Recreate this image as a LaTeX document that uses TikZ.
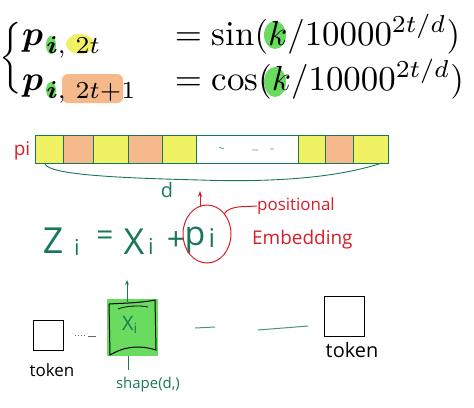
\documentclass[tikz,border=0pt]{standalone}
\usepackage{amsmath}
\usepackage{fontspec}
\newfontfamily\hand{Open Sans}
\usetikzlibrary{arrows.meta}
\definecolor{hgreen}{RGB}{25,120,90}
\definecolor{hred}{RGB}{215,30,40}
\definecolor{cyel}{RGB}{240,242,100}
\definecolor{corg}{RGB}{245,185,140}
\definecolor{cgrn}{RGB}{105,220,95}
\newcommand{\eqs}[1]{\scalebox{3.5}{#1}}
\begin{document}
\begin{tikzpicture}[x=1bp,y=-1bp,
  eq/.style={inner sep=0pt},
  hw/.style={inner sep=0pt, font=\hand},
  cell/.style={draw=hgreen, line width=0.9pt},
  tokbox/.style={draw=black, line width=1pt, minimum width=#1, minimum height=#1, inner sep=0pt},
]
\useasboundingbox (0,0) rectangle (474,407);
% highlights
\fill[cyel] (80,44) ellipse [x radius=14, y radius=10];
\fill[corg, rounded corners=6] (62,74) rectangle (123,103);
\fill[cgrn] (51,45) ellipse [x radius=5, y radius=9];
\fill[cgrn] (51,90) ellipse [x radius=5, y radius=8];
\fill[cgrn] (275,35) ellipse [x radius=11, y radius=14];
\fill[cgrn] (275,82) ellipse [x radius=11, y radius=15];
% equation
\node[eq] (brace) at (11,58) {\scalebox{3.0}{$\biggl\{$}};
\node[eq, anchor=base west] (l1) at (22,45) {\eqs{$\boldsymbol{p}_{\mkern2mu\boldsymbol{i},\mkern6mu 2t}$}};
\node[eq, anchor=base west] (l2) at (22,90) {\eqs{$\boldsymbol{p}_{\mkern2mu\boldsymbol{i},\mkern6mu 2t+1}$}};
\node[eq, anchor=base west] (r1) at (165,45) {\eqs{${}=\sin(k/10000^{2t/d})$}};
\node[eq, anchor=base west] (r2) at (165,90) {\eqs{${}=\cos(k/10000^{2t/d})$}};
% bar
\fill[cyel] (35,135) rectangle (63,163);
\fill[corg] (63,135) rectangle (93,163);
\fill[cyel] (93,135) rectangle (128,163);
\fill[corg] (128,135) rectangle (162,163);
\fill[cyel] (162,135) rectangle (196,163);
\fill[cyel] (298,135) rectangle (325,163);
\fill[corg] (325,135) rectangle (353,163);
\fill[cyel] (353,135) rectangle (388,163);
\node[cell, minimum width=353bp, minimum height=28bp, anchor=north west] (bar) at (35,135) {};
\foreach \xx in {63,93,128,162,196,298,325,353}
  \draw[cell] (\xx,135) -- (\xx,163);
\draw[hgreen!70, line width=0.8pt] (219,147) -- (224,149) (252,150) -- (258,150) (270,149) -- (274,149);
\node[hw, text=hred, font=\hand\fontsize{19}{19}\selectfont] (pil) at (22,151) {pi};
% brace under bar
\coordinate (bl) at (45,164);
\coordinate (br) at (382,163);
\draw[hgreen, line width=0.9pt] (bl) .. controls (50,175) and (120,178) .. (200,180)
  .. controls (260,182) and (330,180) .. (br);
\node[hw, text=hgreen, font=\hand\fontsize{20}{20}\selectfont] (d) at (167,190) {d};
% formula
\node[hw, text=hgreen, font=\hand\fontsize{36}{36}\selectfont, anchor=base] (zi) at (53,253) {Z};
\node[hw, text=hgreen, font=\hand\fontsize{22}{22}\selectfont, anchor=base] (zs) at (77,255) {i};
\node[hw, text=hgreen, font=\hand\fontsize{30}{30}\selectfont, anchor=base] (eqs) at (105,245) {=};
\node[hw, text=hgreen, font=\hand\fontsize{36}{36}\selectfont, anchor=base] (xi) at (134,254) {X};
\node[hw, text=hgreen, font=\hand\fontsize{22}{22}\selectfont, anchor=base] (xs) at (151,254) {i};
\node[hw, text=hgreen, font=\hand\fontsize{32}{32}\selectfont, anchor=base] (pl) at (176,250) {+};
\node[hw, text=hgreen, font=\hand\fontsize{34}{34}\selectfont, anchor=base] (pp) at (195,245) {p};
\node[hw, text=hgreen, font=\hand\fontsize{26}{26}\selectfont, anchor=base] (ps) at (212,247) {i};
% circle and labels
\draw[hred, line width=1pt] (207,234) ellipse [x radius=24, y radius=29];
\coordinate (ctop) at (200,206);
\coordinate (atip) at (200,191);
\draw[hred, line width=1pt, -{Stealth[length=6pt]}] (ctop) -- (atip);
\node[hw, text=hred, font=\hand\fontsize{17}{17}\selectfont, anchor=west] (posl) at (257,206) {positional};
\node[hw, text=hred, font=\hand\fontsize{19}{19}\selectfont, anchor=west] (embl) at (252,240) {Embedding};
\draw[hred, line width=1pt] (224,214) .. controls (230,205) and (245,207) .. (posl.west);
% token row
\node[tokbox=30bp] (t1) at (48,335) {};
\node[hw, font=\hand\fontsize{17}{17}\selectfont] (t1l) at (52,370) {token};
\node[fill=cgrn, minimum width=51bp, minimum height=57bp, inner sep=0pt] (xb) at (132,327) {};
\draw[black, line width=1pt] (109,304) -- (110,355) .. controls (125,346) and (140,345) .. (156,350)
  -- (155,300) .. controls (140,303) and (125,303) .. (109,304);
\draw[black, line width=0.8pt] (118,309) .. controls (125,306) and (140,305) .. (148,307);
\node[hw, text=hgreen, font=\hand\fontsize{20}{20}\selectfont] (xbl) at (130,325) {X\textsubscript{i}};
\coordinate (xtop) at (127,280);
\draw[hgreen, line width=1pt, -{Stealth[length=5pt]}] (127,302) -- (xtop);
\coordinate (sh) at (128,370);
\draw[hgreen, line width=1pt] (xb.south -| sh) -- (sh);
\node[hw, text=hgreen, font=\hand\fontsize{15}{15}\selectfont] (shl) at (148,385) {shape(d,)};
\draw[black!60, line width=0.8pt, dotted] (t1.east) ++(12,0) -- ++(10,0);
\draw[black!60, line width=0.8pt] (t1.east) ++(24,1) -- ++(8,0);
\coordinate (m1) at (195,328);
\coordinate (m2) at (215,327);
\coordinate (m3) at (258,330);
\coordinate (m4) at (308,326);
\draw[hgreen!80, line width=1pt] (m1) -- (m2);
\draw[hgreen!80, line width=1pt] (m3) -- (m4);
\node[tokbox=40bp] (t2) at (344,316) {};
\node[hw, font=\hand\fontsize{20}{20}\selectfont] (t2l) at (352,350) {token};
\end{tikzpicture}
\end{document}
